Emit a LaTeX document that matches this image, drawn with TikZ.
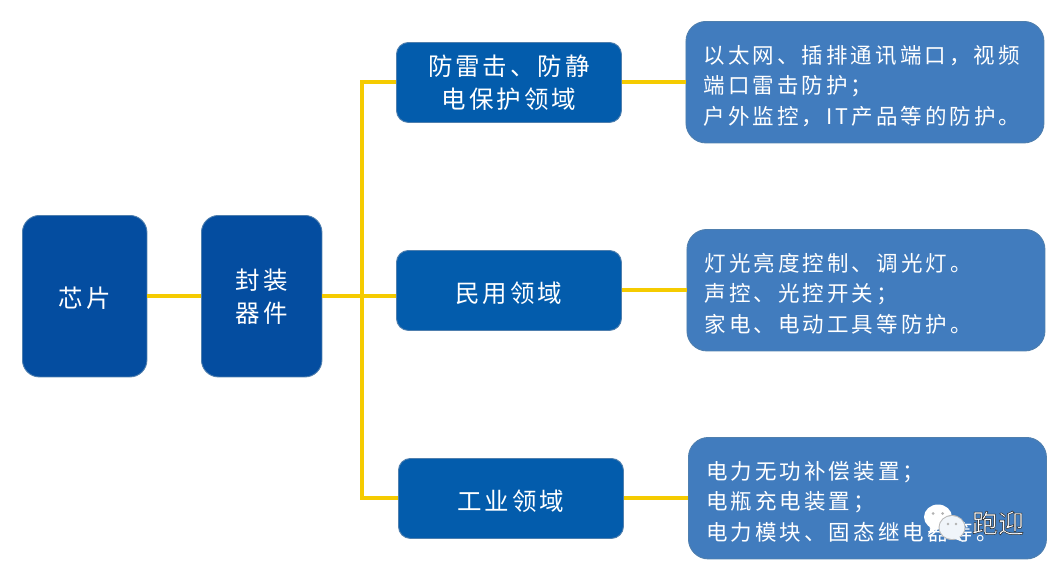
\documentclass[tikz,border=0pt]{standalone}
\usepackage{fontspec}
\setmainfont{Noto Sans CJK SC}
\newfontfamily\boxfont[LetterSpace=12]{Noto Sans CJK SC}
\newfontfamily\sidefont[LetterSpace=14]{Noto Sans CJK SC}
\definecolor{chipblue}{HTML}{044DA0}
\definecolor{midblue}{HTML}{035CAC}
\definecolor{sideblue}{HTML}{417CBE}
\definecolor{edgeblue}{HTML}{4F7FAE}
\definecolor{linkyellow}{HTML}{F5CB00}
\tikzset{
  textdrop/.style={execute at begin node={\rule{0pt}{#1}}},
  basebox/.style={draw=edgeblue,line width=0.9pt,text=white,inner sep=0pt,anchor=north west},
  chipbox/.style={basebox,fill=chipblue,rounded corners=17pt,font=\boxfont\fontsize{24.5}{33}\selectfont,align=center},
  midbox/.style={basebox,fill=midblue,rounded corners=12pt,font=\boxfont\fontsize{24.5}{33}\selectfont,align=center,minimum width=225pt,minimum height=80pt},
  sidebox/.style={basebox,fill=sideblue,rounded corners=20pt,font=\sidefont\fontsize{21.5}{30.5}\selectfont,align=left,minimum width=358pt,minimum height=121.5pt,text width=322pt,textdrop=25pt},
  link/.style={draw=linkyellow,line width=4pt},
}
\begin{document}
\begin{tikzpicture}[x=1pt,y=-1pt]
\useasboundingbox (0,0) rectangle (1058,571);
\node[chipbox,minimum width=124.5pt,minimum height=161.5pt,textdrop=25pt] (chip) at (22,215) {芯片};
\node[chipbox,minimum width=120.5pt,minimum height=161.5pt,textdrop=35pt] (pkg) at (201,215) {封装\\器件};
\node[midbox,textdrop=32pt] (m1) at (396,42) {防雷击、防静\\电保护领域};
\node[midbox,textdrop=26pt] (m2) at (396,250) {民用领域};
\node[midbox,textdrop=27pt] (m3) at (398,458) {工业领域};
\node[sidebox] (s1) at (685.5,21) {以太网、插排通讯端口，视频\\端口雷击防护；\\户外监控，IT产品等的防护。};
\node[sidebox] (s2) at (686.5,229) {灯光亮度控制、调光灯。\\声控、光控开关；\\家电、电动工具等防护。};
\node[sidebox] (s3) at (688,437) {电力无功补偿装置；\\电瓶充电装置；\\电力模块、固态继电器等。};
\coordinate (bus) at (362,296);
\draw[link] (chip.east) -- (pkg.west);
\draw[link] (pkg.east) -- (pkg.east -| m2.west);
\draw[link] (m1.west) -| (bus);
\draw[link] (m3.west) -| (bus);
\draw[link] (m1.east) -- (m1.east -| s1.west);
\draw[link] (m2.east) -- (m2.east -| s2.west);
\draw[link] (m3.east) -- (m3.east -| s3.west);
% watermark
\fill[white] (938,517) ellipse [x radius=14pt,y radius=12.5pt];
\fill[white] (931,527) -- (928,535) -- (938,528) -- cycle;
\fill[gray!55] (952,527.5) ellipse [x radius=13.5pt,y radius=12.5pt];
\fill[white!92!sideblue] (952,527.5) ellipse [x radius=12.5pt,y radius=11.5pt];
\fill[white!92!sideblue] (958,535) -- (963,542) -- (950,537) -- cycle;
\fill[gray!60] (933,513.5) circle (1.5pt) (942.5,513.5) circle (1.5pt) (948,524) circle (1.3pt) (956,524) circle (1.3pt);
\node[text=white,inner sep=0pt,font=\fontsize{26}{26}\selectfont] (wm) at (998,523)
  {\special{pdf: code 2 Tr 0.5 w 0.15 0.15 0.15 RG}跑迎\special{pdf: code 0 Tr}};
\end{tikzpicture}
\end{document}
